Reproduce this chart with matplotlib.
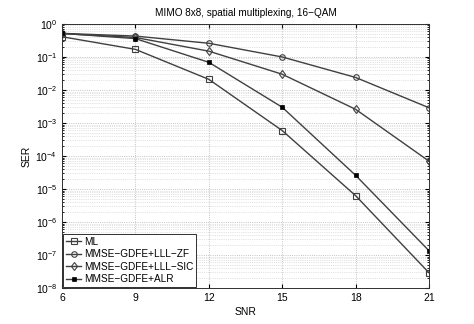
import matplotlib
matplotlib.use("Agg")
import matplotlib.pyplot as plt
import numpy as np

snr = [6, 9, 12, 15, 18, 21]
ser_ml = [0.41, 0.17, 0.021, 5.9e-4, 6.3e-6, 2.9e-8]
ser_zf = [0.52, 0.43, 0.26, 0.10, 0.024, 0.0029]
ser_sic = [0.51, 0.39, 0.15, 0.030, 0.0026, 7e-5]
ser_alr = [0.52, 0.36, 0.069, 0.003, 2.6e-5, 1.35e-7]
labels = ["ML", "MMSE\u2212GDFE+LLL\u2212ZF", "MMSE\u2212GDFE+LLL\u2212SIC", "MMSE\u2212GDFE+ALR"]

plt.rcParams['font.family'] = ['Liberation Sans', 'DejaVu Sans']
plt.rcParams['font.size'] = 7.2

fig = plt.figure(figsize=(4.74, 3.24), dpi=100)
ax = fig.add_axes([0.131, 0.111, 0.774, 0.815])

lc = '#404040'
ax.semilogy(snr, ser_ml, color=lc, lw=1.0, marker='s', ms=4, mfc='none', mec=lc, mew=0.8, label=labels[0])
ax.semilogy(snr, ser_zf, color=lc, lw=1.0, marker='o', ms=4, mfc='none', mec=lc, mew=0.8, label=labels[1])
ax.semilogy(snr, ser_sic, color=lc, lw=1.0, marker='d', ms=4.5, mfc='none', mec=lc, mew=0.8, label=labels[2])
ax.semilogy(snr, ser_alr, color=lc, lw=1.0, marker='s', ms=2.5, mfc='black', mec='black', mew=0.5, label=labels[3])

ax.set_xlim(6, 21)
ax.set_ylim(1e-8, 1)
ax.set_xticks(snr)
ax.set_yticks([10.0**k for k in range(-8, 1)])
ax.grid(True, which='major', ls=':', color='#b0b0b0', lw=0.6)
ax.grid(True, which='minor', axis='y', ls=':', color='#c8c8c8', lw=0.5)
ax.tick_params(which='both', direction='in', top=True, right=True)
ax.tick_params(which='major', length=3, labelsize=7.5)
ax.tick_params(which='minor', length=1.5)
for s in ax.spines.values():
    s.set_color('#303030')
    s.set_linewidth(0.7)

ax.set_xlabel('SNR', fontsize=7.5, labelpad=3)
ax.set_ylabel('SER', fontsize=7.5, labelpad=3)
ax.set_title('MIMO 8x8, spatial multiplexing, 16\u2212QAM', fontsize=7.2, pad=6)

leg = ax.legend(loc='lower left', fancybox=False, framealpha=1, borderpad=0.3,
                labelspacing=0.25, handlelength=1.5, handletextpad=0.3, borderaxespad=0.1)
leg.get_frame().set_edgecolor('#303030')
leg.get_frame().set_linewidth(0.7)

fig.savefig('out.png', dpi=100)
